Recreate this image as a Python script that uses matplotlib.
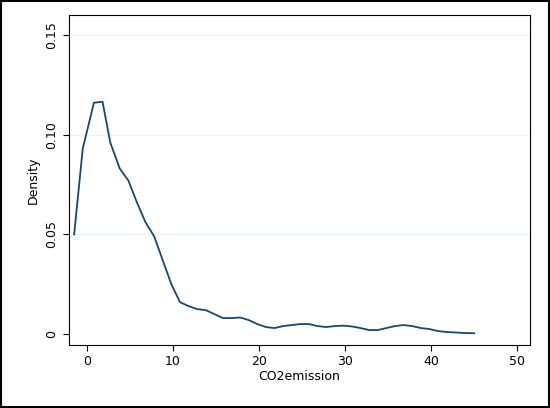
import matplotlib
matplotlib.use("Agg")
import matplotlib.pyplot as plt
from matplotlib.patches import Rectangle

x = [-1.5,-0.5,0.8,1.8,2.7,3.8,4.8,5.8,6.8,7.8,8.8,9.8,10.8,11.8,12.8,13.8,14.8,15.8,16.8,17.8,18.8,19.8,20.8,21.8,22.8,23.8,24.8,25.8,26.8,27.8,28.8,29.8,30.8,31.8,32.8,33.8,34.8,35.8,36.8,37.8,38.8,39.8,40.8,41.8,42.8,43.8,45.0]
density = [0.050,0.093,0.116,0.1165,0.096,0.083,0.077,0.066,0.056,0.049,0.037,0.025,0.016,0.014,0.0125,0.012,0.010,0.008,0.008,0.0083,0.007,0.005,0.0035,0.003,0.004,0.0045,0.005,0.005,0.004,0.0035,0.004,0.0042,0.0038,0.003,0.002,0.002,0.003,0.004,0.0045,0.004,0.003,0.0025,0.0015,0.001,0.0008,0.0005,0.0004]
xticks = [0,10,20,30,40,50]
yticks = [0,0.05,0.10,0.15]
ylabels = ["0","0.05","0.10","0.15"]

fig = plt.figure(figsize=(5.5,4.08), dpi=100)
ax = fig.add_axes([69/550, 1-345/408, 461/550, 330/408])
ax.plot(x, density, color="#1a476f", lw=1.3)
ax.set_xlim(-2.1, 51.5)
ax.set_ylim(-0.0055, 0.16)
ax.set_xticks(xticks)
ax.set_yticks(yticks)
ax.set_yticklabels(ylabels, rotation=90, va="center")
for v in [0.05,0.10,0.15]:
    ax.axhline(v, color="#eaf2f3", lw=0.8, zorder=0)
for s in ax.spines.values():
    s.set_color("black"); s.set_linewidth(0.8)
ax.tick_params(labelsize=9, length=4)
ax.set_xlabel("CO2emission", fontsize=9, labelpad=1)
ax.set_ylabel("Density", fontsize=9)
fig.patches.append(Rectangle((0.002,0.002),0.996,0.996, transform=fig.transFigure, fill=False, ec="black", lw=1.5))
fig.savefig("out.png", dpi=100)
